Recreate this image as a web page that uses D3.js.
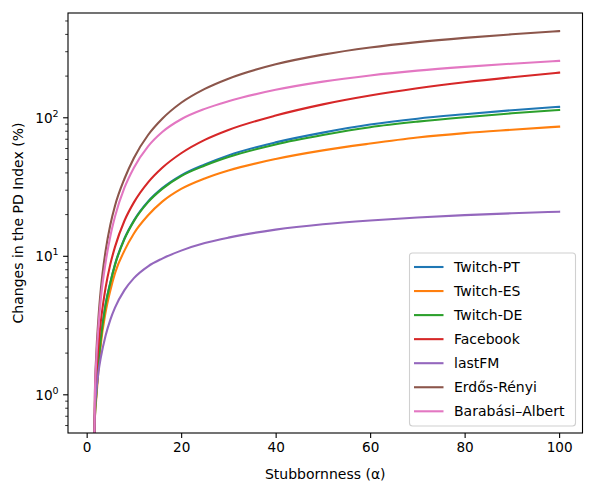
<!DOCTYPE html>
<html>
<head>
<meta charset="utf-8">
<script src="https://cdn.jsdelivr.net/npm/d3@7"></script>
<style>
  html, body { margin: 0; padding: 0; background: #fff; }
  svg text { font-family: "DejaVu Sans", sans-serif; fill: #000; }
</style>
</head>
<body>
<svg id="chart" width="596" height="499"></svg>
<script>
// ---- data ----
const alpha = [1.55, 1.75, 2, 2.5, 3, 4, 5, 6, 8, 10, 13, 16, 20, 25, 30, 40, 50, 60, 70, 80, 90, 100];
const twitchPT  = [0.3, 0.7, 0.96, 1.67, 2.52, 4.45, 6.4, 8.7, 13.35, 18.0, 24.7, 30.8, 38.1, 45.7, 53.1, 65.9, 77.5, 88.6, 97.7, 105.2, 112.5, 119];
const twitchES  = [0.3, 0.68, 0.9, 1.5, 2.3, 3.9, 5.6, 7.5, 10.9, 14.5, 19.6, 24.6, 30.4, 36.2, 41.3, 50.0, 57.7, 64.6, 71.4, 76.9, 81.3, 85.6];
const twitchDE  = [0.3, 0.7, 0.95, 1.65, 2.5, 4.4, 6.34, 8.6, 13.2, 17.8, 24.4, 30.4, 37.6, 44.8, 51.6, 63.7, 74.5, 84.8, 93.0, 100.2, 106.9, 113];
const facebook  = [0.3, 0.85, 1.29, 2.25, 3.35, 5.87, 8.67, 11.6, 17.9, 24.3, 33.9, 43.2, 55.0, 68.7, 81, 103, 124, 143.6, 161.9, 179, 194.8, 210];
const lastFM    = [0.3, 0.78, 1.02, 1.45, 1.85, 2.65, 3.45, 4.22, 5.65, 6.9, 8.4, 9.55, 10.9, 12.35, 13.53, 15.45, 16.9, 18.0, 18.9, 19.65, 20.28, 20.82];
const erdosRenyi = [0.3, 1.05, 1.83, 3.57, 5.74, 10.8, 16.7, 23.0, 36.0, 50.9, 74.5, 97.6, 127.3, 160.4, 190.1, 241.4, 283.5, 319.2, 349, 374.6, 397.3, 418.8];
const barabasiAlbert = [0.3, 1.0, 1.66, 3.1, 4.9, 8.9, 13.8, 19.2, 31.0, 43.3, 61.7, 78.3, 96.8, 115, 130.6, 157.9, 181, 200.4, 217.1, 231.2, 243.8, 255.4];
const seriesNames = ["Twitch-PT", "Twitch-ES", "Twitch-DE", "Facebook", "lastFM", "Erdős-Rényi", "Barabási–Albert"];
const seriesValues = [twitchPT, twitchES, twitchDE, facebook, lastFM, erdosRenyi, barabasiAlbert];
const colors = ["#1f77b4", "#ff7f0e", "#2ca02c", "#d62728", "#9467bd", "#8c564b", "#e377c2"];
const xTicks = [0, 20, 40, 60, 80, 100];
const yMajorTicks = [1, 10, 100];
const yTickExponents = ["0", "1", "2"];
const yMinorTicks = [0.6, 0.7, 0.8, 0.9, 2, 3, 4, 5, 6, 7, 8, 9, 20, 30, 40, 50, 60, 70, 80, 90, 200, 300, 400, 500];
const xLabel = "Stubbornness (α)";
const yLabel = "Changes in the PD Index (%)";

// ---- layout ----
const L = 68, R = 582.5, T = 13, B = 433;
const svg = d3.select("#chart");
const x = d3.scaleLinear().domain([-3.95, 104.95]).range([L, R]);
const y = d3.scaleLog().domain([0.5256, 566.2]).range([B, T]);

svg.append("defs").append("clipPath").attr("id", "clip")
  .append("rect").attr("x", L).attr("y", T).attr("width", R - L).attr("height", B - T);

// lines
const line = d3.line().x(d => x(d[0])).y(d => y(d[1])).curve(d3.curveMonotoneX);
const g = svg.append("g").attr("clip-path", "url(#clip)");
seriesValues.forEach((vals, i) => {
  g.append("path")
    .datum(alpha.map((a, j) => [a, vals[j]]))
    .attr("d", line)
    .attr("fill", "none")
    .attr("stroke", colors[i])
    .attr("stroke-width", 2.1)
    .attr("stroke-linejoin", "round")
    .attr("stroke-linecap", "square");
});

// x axis
const xAxis = svg.append("g").attr("transform", `translate(0,${B})`)
  .call(d3.axisBottom(x).tickValues(xTicks).tickSize(4.9).tickPadding(4.5).tickFormat(d3.format("d")));
xAxis.select(".domain").remove();
xAxis.selectAll("line").attr("stroke", "#000").attr("stroke-width", 1.1);
xAxis.selectAll("text").attr("font-size", 13.6).attr("font-family", "DejaVu Sans");

// y axis major
const yAxis = svg.append("g").attr("transform", `translate(${L},0)`)
  .call(d3.axisLeft(y).tickValues(yMajorTicks).tickSize(4.9).tickPadding(4.5).tickFormat(() => ""));
yAxis.select(".domain").remove();
yAxis.selectAll("line").attr("stroke", "#000").attr("stroke-width", 1.1);
yAxis.selectAll(".tick text").each(function(d, i) {
  const t = d3.select(this).attr("font-size", 13.6).attr("font-family", "DejaVu Sans").attr("dy", "0.35em");
  t.append("tspan").text("10");
  t.append("tspan").text(yTickExponents[i]).attr("font-size", 9.5).attr("dy", "-0.62em");
});

// y axis minor
const yMinor = svg.append("g").attr("transform", `translate(${L},0)`)
  .call(d3.axisLeft(y).tickValues(yMinorTicks).tickSize(2.8).tickFormat(() => ""));
yMinor.select(".domain").remove();
yMinor.selectAll("line").attr("stroke", "#000").attr("stroke-width", 0.8);

// frame
svg.append("rect").attr("x", L).attr("y", T).attr("width", R - L).attr("height", B - T)
  .attr("fill", "none").attr("stroke", "#000").attr("stroke-width", 1.1);

// axis labels
svg.append("text").attr("x", (L + R) / 2).attr("y", 479).attr("text-anchor", "middle")
  .attr("font-size", 14).text(xLabel);
svg.append("text").attr("transform", `translate(23,${(T + B) / 2}) rotate(-90)`)
  .attr("text-anchor", "middle").attr("font-size", 14).text(yLabel);

// legend
const lg = svg.append("g");
const lx = 409.5, ly = 253, lw = 166, lh = 173;
lg.append("rect").attr("x", lx).attr("y", ly).attr("width", lw).attr("height", lh)
  .attr("rx", 3).attr("fill", "#fff").attr("fill-opacity", 0.8)
  .attr("stroke", "#d0d0d0").attr("stroke-width", 1.1);
seriesNames.forEach((name, i) => {
  const cy = 267 + i * 24.05;
  lg.append("line").attr("x1", 414).attr("x2", 443.5).attr("y1", cy).attr("y2", cy)
    .attr("stroke", colors[i]).attr("stroke-width", 2.1);
  lg.append("text").attr("x", 454).attr("y", cy).attr("dy", "0.36em")
    .attr("font-size", 14).text(name);
});
</script>
</body>
</html>
